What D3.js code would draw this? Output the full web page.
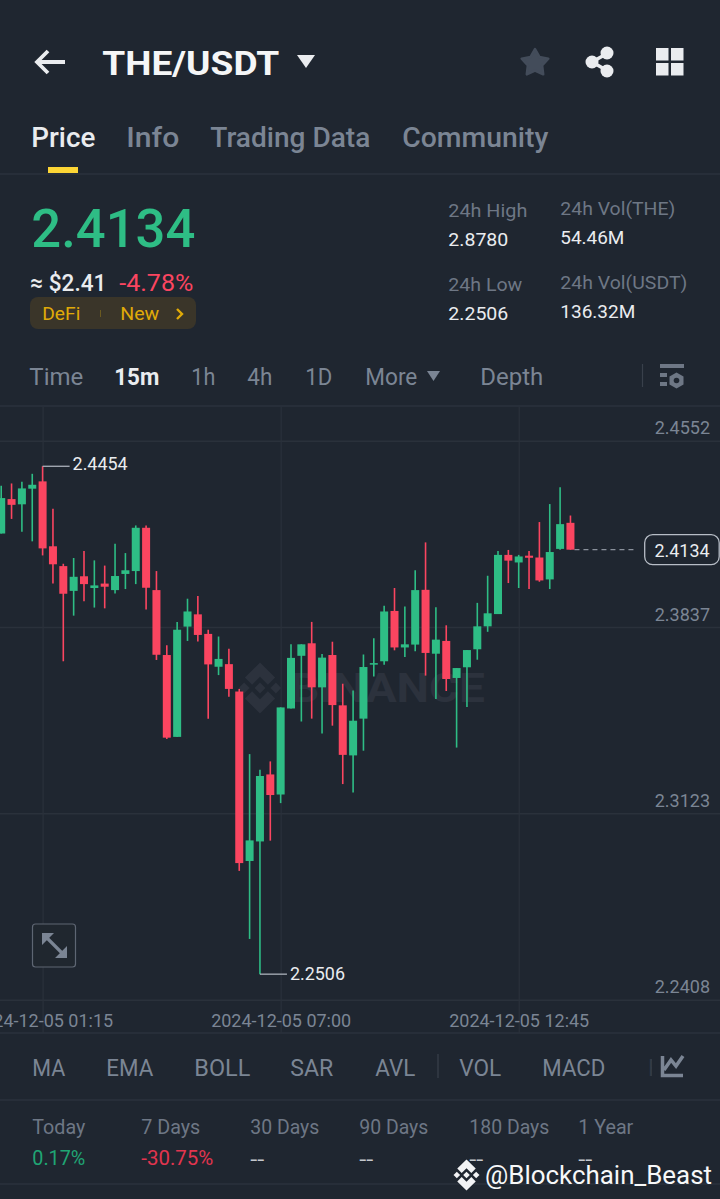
<!DOCTYPE html>
<html>
<head>
<meta charset="utf-8">
<script src="https://cdn.jsdelivr.net/npm/d3@7"></script>
<style>
  html, body { margin: 0; padding: 0; background: #1f2630; }
  svg { display: block; font-family: Roboto, "Noto Sans", sans-serif; }
</style>
</head>
<body>
<svg id="app" width="720" height="1199"></svg>
<script>
// 15m candles, first one is 00:15
const firstCandle = "2024-12-05 00:15";
const opens = [2.4196,2.4328,2.4308,2.4368,2.4396,2.4147,2.4071,2.3976,2.4032,2.3987,2.4004,2.3979,2.4041,2.4052,2.4218,2.3979,2.3730,2.3416,2.3839,2.3886,2.3811,2.3685,2.3695,2.3590,2.2940,2.3015,2.3272,2.3195,2.3525,2.3727,2.3775,2.3606,2.3730,2.3537,2.3345,2.3486,2.3693,2.3706,2.3899,2.3759,2.3770,2.3980,2.3735,2.3784,2.3642,2.3683,2.3752,2.3840,2.3887,2.4114,2.4085,2.4111,2.4104,2.4020,2.4137,2.4237];
const highs = [2.4379,2.4388,2.4395,2.4425,2.4454,2.4291,2.4080,2.4102,2.4129,2.4093,2.4073,2.4157,2.4121,2.4227,2.4227,2.4052,2.3767,2.3857,2.3946,2.3956,2.3827,2.3801,2.3754,2.3600,2.3350,2.3290,2.3322,2.3529,2.3771,2.3771,2.3857,2.3734,2.3781,2.3620,2.3594,2.3732,2.3794,2.3919,2.3987,2.3916,2.4055,2.4162,2.3913,2.3844,2.3680,2.3749,2.3930,2.4034,2.4129,2.4133,2.4114,2.4129,2.4240,2.4309,2.4373,2.4265];
const lows = [2.4196,2.4252,2.4203,2.4166,2.4112,2.4004,2.3706,2.3881,2.3936,2.3912,2.3909,2.3966,2.3983,2.4002,2.3905,2.3711,2.3408,2.3416,2.3784,2.3782,2.3486,2.3653,2.3570,2.2902,2.2641,2.2506,2.3018,2.3162,2.3525,2.3475,2.3486,2.3429,2.3459,2.3235,2.3203,2.3363,2.3648,2.3693,2.3748,2.3722,2.3744,2.3651,2.3561,2.3592,2.3375,2.3531,2.3712,2.3819,2.3887,2.4006,2.3987,2.3983,2.4011,2.3983,2.4134,2.4134];
const closes = [2.4332,2.4306,2.4369,2.4383,2.4139,2.4078,2.3965,2.4030,2.4002,2.3997,2.3992,2.4033,2.4055,2.4218,2.3988,2.3731,2.3413,2.3827,2.3897,2.3807,2.3694,2.3715,2.3600,2.2932,2.3019,2.3266,2.3193,2.3529,2.3719,2.3771,2.3606,2.3720,2.3538,2.3347,2.3478,2.3684,2.3699,2.3897,2.3759,2.3771,2.3979,2.3738,2.3789,2.3638,2.3680,2.3749,2.3840,2.3890,2.4114,2.4092,2.4108,2.4103,2.4016,2.4125,2.4232,2.4134];

const priceTicks = [2.4552, 2.3837, 2.3123, 2.2408];
const timeTicks = ["2024-12-05 01:15", "2024-12-05 07:00", "2024-12-05 12:45"];
const highMark = { index: 4, price: 2.4454, dy: 3.5 };
const lowMark = { index: 25, price: 2.2506, dy: 5.5 };
const lastPrice = 2.4134;

const green = "#2ebd85", red = "#fb4560";
const gray = "#7b8594", dim = "#6e7785", white = "#eaecef", line = "#2b323c";

// screen text: [label, x, baseline, size, width, colour, weight]
const texts = [
  ["THE/USDT", 103, 75, 34, 177, "#f5f6f7", 700],
  ["Price", 32, 147, 28, 64, white, 500],
  ["Info", 127, 147, 28, 53, gray, 500],
  ["Trading Data", 211, 147, 28, 160, gray, 500],
  ["Community", 403, 147, 28, 146, gray, 500],
  ["2.4134", 32, 247, 54, 164, green, 500],
  ["≈ $2.41", 31, 291, 24, 76, white, 500],
  ["-4.78%", 120, 291, 23, 74, red, 400],
  ["DeFi", 43, 320, 19, 38, "#e0aa08", 400],
  ["New", 121, 320, 19, 39, "#e0aa08", 400],
  ["24h High", 449, 217, 19, 79, dim, 400],
  ["2.8780", 449, 246, 19, 60, white, 400],
  ["24h Vol(THE)", 561, 215, 19, 115, dim, 400],
  ["54.46M", 561, 244, 19, 64, white, 400],
  ["24h Low", 449, 291, 19, 74, dim, 400],
  ["2.2506", 449, 320, 19, 60, white, 400],
  ["24h Vol(USDT)", 561, 289, 19, 127, dim, 400],
  ["136.32M", 561, 318, 19, 75, white, 400],
  ["Time", 30, 385, 24, 54, gray, 400],
  ["15m", 115, 385, 24, 45, white, 700],
  ["1h", 192, 385, 24, 24, gray, 400],
  ["4h", 248, 385, 24, 25, gray, 400],
  ["1D", 306, 385, 24, 27, gray, 400],
  ["More", 366, 385, 24, 52, gray, 400],
  ["Depth", 481, 385, 24, 63, gray, 400],
  ["MA", 33, 1076, 23, 33, gray, 400],
  ["EMA", 107, 1076, 23, 47, gray, 400],
  ["BOLL", 195, 1076, 23, 56, gray, 400],
  ["SAR", 291, 1076, 23, 43, gray, 400],
  ["AVL", 376, 1076, 23, 40, gray, 400],
  ["VOL", 460, 1076, 23, 42, gray, 400],
  ["MACD", 543, 1076, 23, 63, gray, 400],
  ["Today", 33, 1134, 20, 53, dim, 400],
  ["7 Days", 142, 1134, 20, 59, dim, 400],
  ["30 Days", 251, 1134, 20, 69, dim, 400],
  ["90 Days", 360, 1134, 20, 69, dim, 400],
  ["180 Days", 470, 1134, 20, 80, dim, 400],
  ["1 Year", 579, 1134, 20, 55, dim, 400],
  ["0.17%", 33, 1165, 20, 53, "#1fa574", 400],
  ["-30.75%", 142, 1165, 20, 72, "#e2354f", 400],
  ["--", 251, 1166, 20, 14, "#c4c8ce", 400],
  ["--", 360, 1166, 20, 14, "#c4c8ce", 400],
  ["--", 470, 1166, 20, 14, "#c4c8ce", 400],
  ["--", 579, 1166, 20, 14, "#c4c8ce", 400]
];

const svg = d3.select("#app");
svg.append("rect").attr("width", 720).attr("height", 1199).attr("fill", "#1f2630");

// separators
[174, 406, 1033, 1100, 1184].forEach(y => {
  svg.append("line").attr("x1", 0).attr("x2", 720).attr("y1", y).attr("y2", y)
    .attr("stroke", line).attr("stroke-width", 1.5);
});

// scales
const parseTime = d3.timeParse("%Y-%m-%d %H:%M");
const formatTime = d3.timeFormat("%Y-%m-%d %H:%M");
const xScale = d3.scaleTime()
  .domain([parseTime(timeTicks[0]), parseTime(timeTicks[2])])
  .range([42.6, 518.7]);
const yScale = d3.scaleLinear()
  .domain([priceTicks[3], priceTicks[0]])
  .range([999.7, 440.7]);
const timeOf = i => d3.timeMinute.offset(parseTime(firstCandle), i * 15);

// grid + axis labels
const yAxis = d3.axisRight(yScale).tickValues(priceTicks).tickFormat(d3.format(".4f")).tickSize(720);
const gy = svg.append("g").call(yAxis);
gy.select(".domain").remove();
gy.selectAll(".tick line").attr("stroke", "#2a313b").attr("stroke-width", 1.5);
gy.selectAll(".tick text")
  .attr("x", 710).attr("dy", -7).attr("text-anchor", "end")
  .attr("fill", gray).style("font-size", "18px").style("font-family", "Roboto");

const xAxis = d3.axisBottom(xScale).tickValues(timeTicks.map(parseTime)).tickFormat(formatTime).tickSize(-626);
const gx = svg.append("g").attr("transform", "translate(0,1033)").call(xAxis);
gx.select(".domain").remove();
gx.selectAll(".tick line").attr("stroke", "#2a313b").attr("stroke-width", 1.2);
gx.selectAll(".tick text")
  .attr("y", -6).attr("dy", 0).attr("fill", gray)
  .attr("textLength", 140).attr("lengthAdjust", "spacingAndGlyphs")
  .style("font-size", "18px").style("font-family", "Roboto");

// binance mark, used for the watermark and the credit
function logo(cx, cy, s, colour) {
  const g = svg.append("g").attr("transform", `translate(${cx},${cy}) scale(${s})`).attr("fill", colour);
  const diamonds = [[0, 0, 1], [-2.2, 0, 1], [2.2, 0, 1]];
  diamonds.forEach(d => {
    g.append("path").attr("d", `M${d[0]-0.75},${d[1]}L${d[0]},${d[1]-0.75}L${d[0]+0.75},${d[1]}L${d[0]},${d[1]+0.75}Z`);
  });
  g.append("path").attr("d", "M0,-3.1L2.1,-1L1.1,0L0,-1.1L-1.1,0L-2.1,-1Z").attr("transform", "translate(0,-0.45)");
  g.append("path").attr("d", "M0,3.1L2.1,1L1.1,0L0,1.1L-1.1,0L-2.1,1Z").attr("transform", "translate(0,0.45)");
}

logo(260, 688, 7.2, "#2c323d");
svg.append("text").text("BINANCE").attr("x", 290).attr("y", 702)
  .attr("font-size", 40).attr("font-weight", 700).attr("fill", "#2c323d")
  .attr("textLength", 195).attr("lengthAdjust", "spacingAndGlyphs");

// candles
const candles = opens.map((o, i) => ({ t: timeOf(i), o, h: highs[i], l: lows[i], c: closes[i] }));
const colourOf = d => d.c >= d.o ? green : red;
const plot = svg.append("g");
plot.selectAll("line.wick").data(candles).join("line")
  .attr("class", "wick")
  .attr("x1", d => xScale(d.t)).attr("x2", d => xScale(d.t))
  .attr("y1", d => yScale(d.h)).attr("y2", d => yScale(d.l))
  .attr("stroke", colourOf).attr("stroke-width", 1.6);
plot.selectAll("rect.body").data(candles).join("rect")
  .attr("class", "body")
  .attr("x", d => xScale(d.t) - 4).attr("width", 8)
  .attr("y", d => yScale(Math.max(d.o, d.c)))
  .attr("height", d => Math.max(1.5, Math.abs(yScale(d.o) - yScale(d.c))))
  .attr("fill", colourOf);

// high / low callouts
function callout(mark) {
  const x = xScale(timeOf(mark.index)), y = yScale(mark.price);
  svg.append("line").attr("x1", x).attr("x2", x + 27).attr("y1", y).attr("y2", y)
    .attr("stroke", "#b7bdc6").attr("stroke-width", 1.2);
  svg.append("text").text(mark.price.toFixed(4)).attr("x", x + 30).attr("y", y + mark.dy)
    .attr("font-size", 18).attr("fill", white)
    .attr("textLength", 55).attr("lengthAdjust", "spacingAndGlyphs");
}
callout(highMark);
callout(lowMark);

// last price
const lastY = yScale(lastPrice);
svg.append("line").attr("x1", xScale(timeOf(55)) + 4).attr("x2", 636).attr("y1", lastY).attr("y2", lastY)
  .attr("stroke", "#8a919c").attr("stroke-width", 1.2).attr("stroke-dasharray", "5 4");
svg.append("rect").attr("x", 644.7).attr("y", lastY - 15).attr("width", 74.5).attr("height", 30).attr("rx", 8)
  .attr("fill", "#1f2630").attr("stroke", "#b7bdc6").attr("stroke-width", 1.3);
svg.append("text").text(lastPrice.toFixed(4)).attr("x", 682).attr("y", lastY + 7)
  .attr("text-anchor", "middle").attr("font-size", 18).attr("fill", white)
  .attr("textLength", 55).attr("lengthAdjust", "spacingAndGlyphs");

// expand button
svg.append("rect").attr("x", 32.5).attr("y", 924).attr("width", 43).attr("height", 43).attr("rx", 3)
  .attr("fill", "#20272f").attr("stroke", "#5e6673").attr("stroke-width", 1.2);
svg.append("path").attr("d", "M46,937L63,954").attr("stroke", gray).attr("stroke-width", 3.2);
svg.append("path").attr("d", "M42,933H54L42,945ZM67,958H55L67,946Z").attr("fill", gray);

// all the flat text
svg.append("g").selectAll("text").data(texts).join("text")
  .text(d => d[0]).attr("x", d => d[1] - 0.7).attr("y", d => d[2])
  .attr("font-size", d => d[3]).attr("textLength", d => d[4]).attr("lengthAdjust", "spacingAndGlyphs")
  .attr("fill", d => d[5]).attr("font-weight", d => d[6]);

// top bar icons
svg.append("path").attr("d", "M37,62H65M48,51L37,62L48,73").attr("fill", "none")
  .attr("stroke", "#eaecef").attr("stroke-width", 3.8);
svg.append("path").attr("d", "M297,55H315L306,68Z").attr("fill", "#eaecef");
const starPoints = d3.range(10).map(i => [(i % 2 ? 7.5 : 14) * Math.sin(i * Math.PI / 5), -(i % 2 ? 7.5 : 14) * Math.cos(i * Math.PI / 5)]);
svg.append("path").attr("d", d3.line()(starPoints) + "Z").attr("transform", "translate(535,63)")
  .attr("fill", "#434c5a").attr("stroke", "#434c5a").attr("stroke-width", 2.5).attr("stroke-linejoin", "round");
svg.append("path").attr("d", "M608,53L592,62L608,71").attr("fill", "none").attr("stroke", "#eaecef").attr("stroke-width", 3.5);
[[607, 53, 6.5], [592, 62, 6.5], [607, 71, 6.5]].forEach(c => {
  svg.append("circle").attr("cx", c[0]).attr("cy", c[1]).attr("r", c[2]).attr("fill", "#eaecef");
});
[[656, 48], [671, 48], [656, 63], [671, 63]].forEach(c => {
  svg.append("rect").attr("x", c[0]).attr("y", c[1]).attr("width", 12.5).attr("height", 12.5).attr("fill", "#eaecef");
});
svg.append("rect").attr("x", 48).attr("y", 167).attr("width", 30).attr("height", 6).attr("fill", "#fcd535");

// tag behind DeFi / New
svg.insert("rect", "g").attr("x", 30).attr("y", 297).attr("width", 166).attr("height", 32).attr("rx", 8).attr("fill", "#3a3529");
svg.append("line").attr("x1", 100.5).attr("x2", 100.5).attr("y1", 310).attr("y2", 317).attr("stroke", "#6b5a20");
svg.append("path").attr("d", "M177,309L182,314L177,319").attr("fill", "none").attr("stroke", "#e0aa08").attr("stroke-width", 2.4);

// interval bar icons
svg.append("path").attr("d", "M427,371H440L433.5,381Z").attr("fill", gray);
svg.append("line").attr("x1", 642.5).attr("x2", 642.5).attr("y1", 364).attr("y2", 387).attr("stroke", "#39404b").attr("stroke-width", 1.2);
svg.append("rect").attr("x", 660).attr("y", 364).attr("width", 24).attr("height", 4).attr("fill", dim);
svg.append("rect").attr("x", 660).attr("y", 373).attr("width", 7).attr("height", 4).attr("fill", dim);
svg.append("rect").attr("x", 660).attr("y", 382).attr("width", 7).attr("height", 4).attr("fill", dim);
svg.append("path").attr("d", "M676.5,372.5L683.5,376.5V384.5L676.5,388.5L669.5,384.5V376.5Z").attr("fill", dim);
svg.append("circle").attr("cx", 676.5).attr("cy", 380.5).attr("r", 2.8).attr("fill", "#1f2630");

// indicator bar icons
svg.append("line").attr("x1", 438).attr("x2", 438).attr("y1", 1054).attr("y2", 1078).attr("stroke", "#39404b").attr("stroke-width", 1.2);
svg.append("text").text("R").attr("x", 648).attr("y", 1076).attr("font-size", 23).attr("fill", "#333a45");
svg.append("rect").attr("x", 652).attr("y", 1050).attr("width", 9).attr("height", 32).attr("fill", "#1f2630");
svg.append("path").attr("d", "M662.5,1056V1075.5H683M664,1070L671,1060L676,1066L683,1056").attr("fill", "none")
  .attr("stroke", gray).attr("stroke-width", 3.5);

// credit
logo(466.5, 1175, 4.4, "#f2f3f5");
svg.append("text").text("@Blockchain_Beast").attr("x", 485).attr("y", 1184)
  .attr("font-size", 25).attr("fill", "#f7f8f9")
  .attr("textLength", 227).attr("lengthAdjust", "spacingAndGlyphs");
</script>
</body>
</html>
